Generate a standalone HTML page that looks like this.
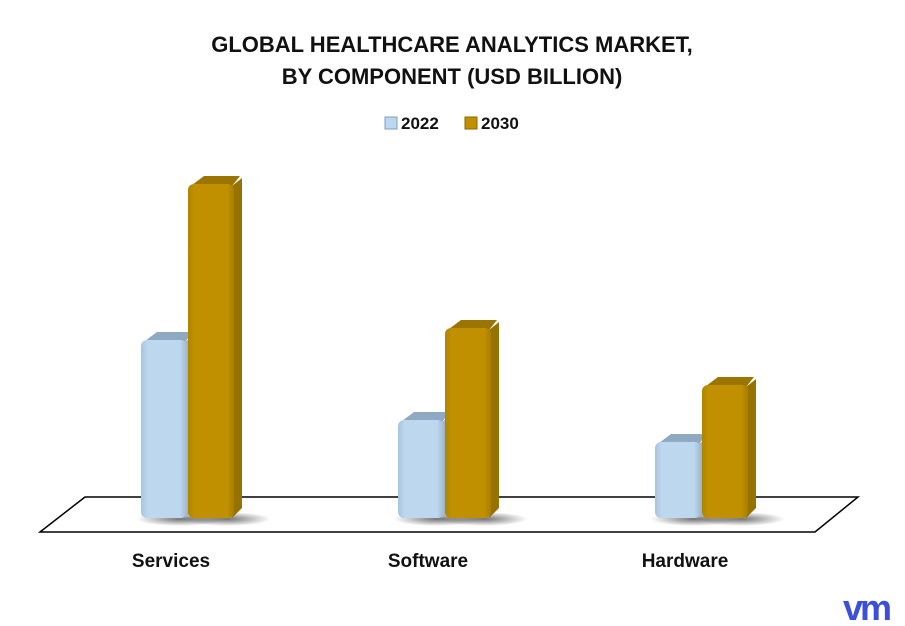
<!DOCTYPE html>
<html><head><meta charset="utf-8"><style>
html,body{margin:0;padding:0;background:#fff;}
svg{display:block;font-family:"Liberation Sans",sans-serif;}
</style></head><body>
<svg width="905" height="626" viewBox="0 0 905 626">
<defs>
<linearGradient id="gb" x1="0" x2="1"><stop offset="0" stop-color="#a9c4de"/><stop offset="0.15" stop-color="#bdd7ee"/><stop offset="0.85" stop-color="#bdd7ee"/><stop offset="1" stop-color="#9fb8cf"/></linearGradient>
<linearGradient id="gg" x1="0" x2="1"><stop offset="0" stop-color="#b08500"/><stop offset="0.15" stop-color="#c09000"/><stop offset="0.85" stop-color="#c09000"/><stop offset="1" stop-color="#a87e00"/></linearGradient>
<radialGradient id="sh"><stop offset="0" stop-color="#000" stop-opacity="0.55"/><stop offset="1" stop-color="#000" stop-opacity="0"/></radialGradient>
</defs>
<text x="452" y="52" text-anchor="middle" font-size="22" font-weight="bold" fill="#111">GLOBAL HEALTHCARE ANALYTICS MARKET,</text>
<text x="452" y="84" text-anchor="middle" font-size="22" font-weight="bold" fill="#111">BY COMPONENT (USD BILLION)</text>
<g>
<rect x="385" y="117" width="12" height="12" fill="#bdd7ee" stroke="#7f9fbf"/>
<text x="401" y="129" font-size="17" font-weight="bold" fill="#111">2022</text>
<rect x="465" y="117" width="12" height="12" fill="#c09000" stroke="#8a6800"/>
<text x="481" y="129" font-size="17" font-weight="bold" fill="#111">2030</text>
</g>
<polygon points="85,497 858,497 815,532 40,532" fill="#fff" stroke="#000" stroke-width="1.5"/>
<g id="bars"></g>
<g id="xlabels"></g>
<text x="866" y="620" text-anchor="middle" font-size="36" font-weight="bold" fill="#3b4fd8" style="letter-spacing:-3px">vm</text>
</svg>
<script>
const categories=["Services","Software","Hardware"];
const values2022=[17.8,9.8,7.6];
const values2030=[33.4,19.0,13.3];
const ns="http://www.w3.org/2000/svg";
const base=518, pxPer=10;
const y=v=>base-v*pxPer;
const cx=i=>187+i*257;
const g=document.getElementById('bars'), xl=document.getElementById('xlabels');
function mk(t,a,p){const e=document.createElementNS(ns,t);for(const k in a)e.setAttribute(k,a[k]);p.appendChild(e);return e;}
function bar(x,v,fill,top,side,name){
  const t=y(v),w=46,d=10;
  const s=mk('ellipse',{cx:x+w/2+16,cy:base+1,rx:w*0.95,ry:7,fill:'url(#sh)'},g);
  
  
  const sd=mk('polygon',{points:`${x+w-2},${t+2} ${x+w+d-2},${t-6} ${x+w+d-2},${base-10} ${x+w-2},${base}`,fill:side},g);
  
  
  const tp=mk('polygon',{points:`${x+4},${t+1} ${x+d+6},${t-8} ${x+w+d-4},${t-8} ${x+w-2},${t+2}`,fill:top},g);
  
  
  const r=mk('rect',{x:x,y:t,width:w,height:base-t,rx:6,fill:fill},g);
  
  
}
categories.forEach((c,i)=>{
  const x=cx(i);
  bar(x-46,values2022[i],'url(#gb)','#8fa9c2','#9ab3ca','bar-'+c.toLowerCase()+'-2022');
  bar(x+1,values2030[i],'url(#gg)','#9c7500','#987200','bar-'+c.toLowerCase()+'-2030');
  const tx=mk('text',{x:x-16,y:567,'text-anchor':'middle','font-size':19,'font-weight':'bold',fill:'#111'},xl);
  tx.textContent=c;
  
  
});
</script>
</body></html>
